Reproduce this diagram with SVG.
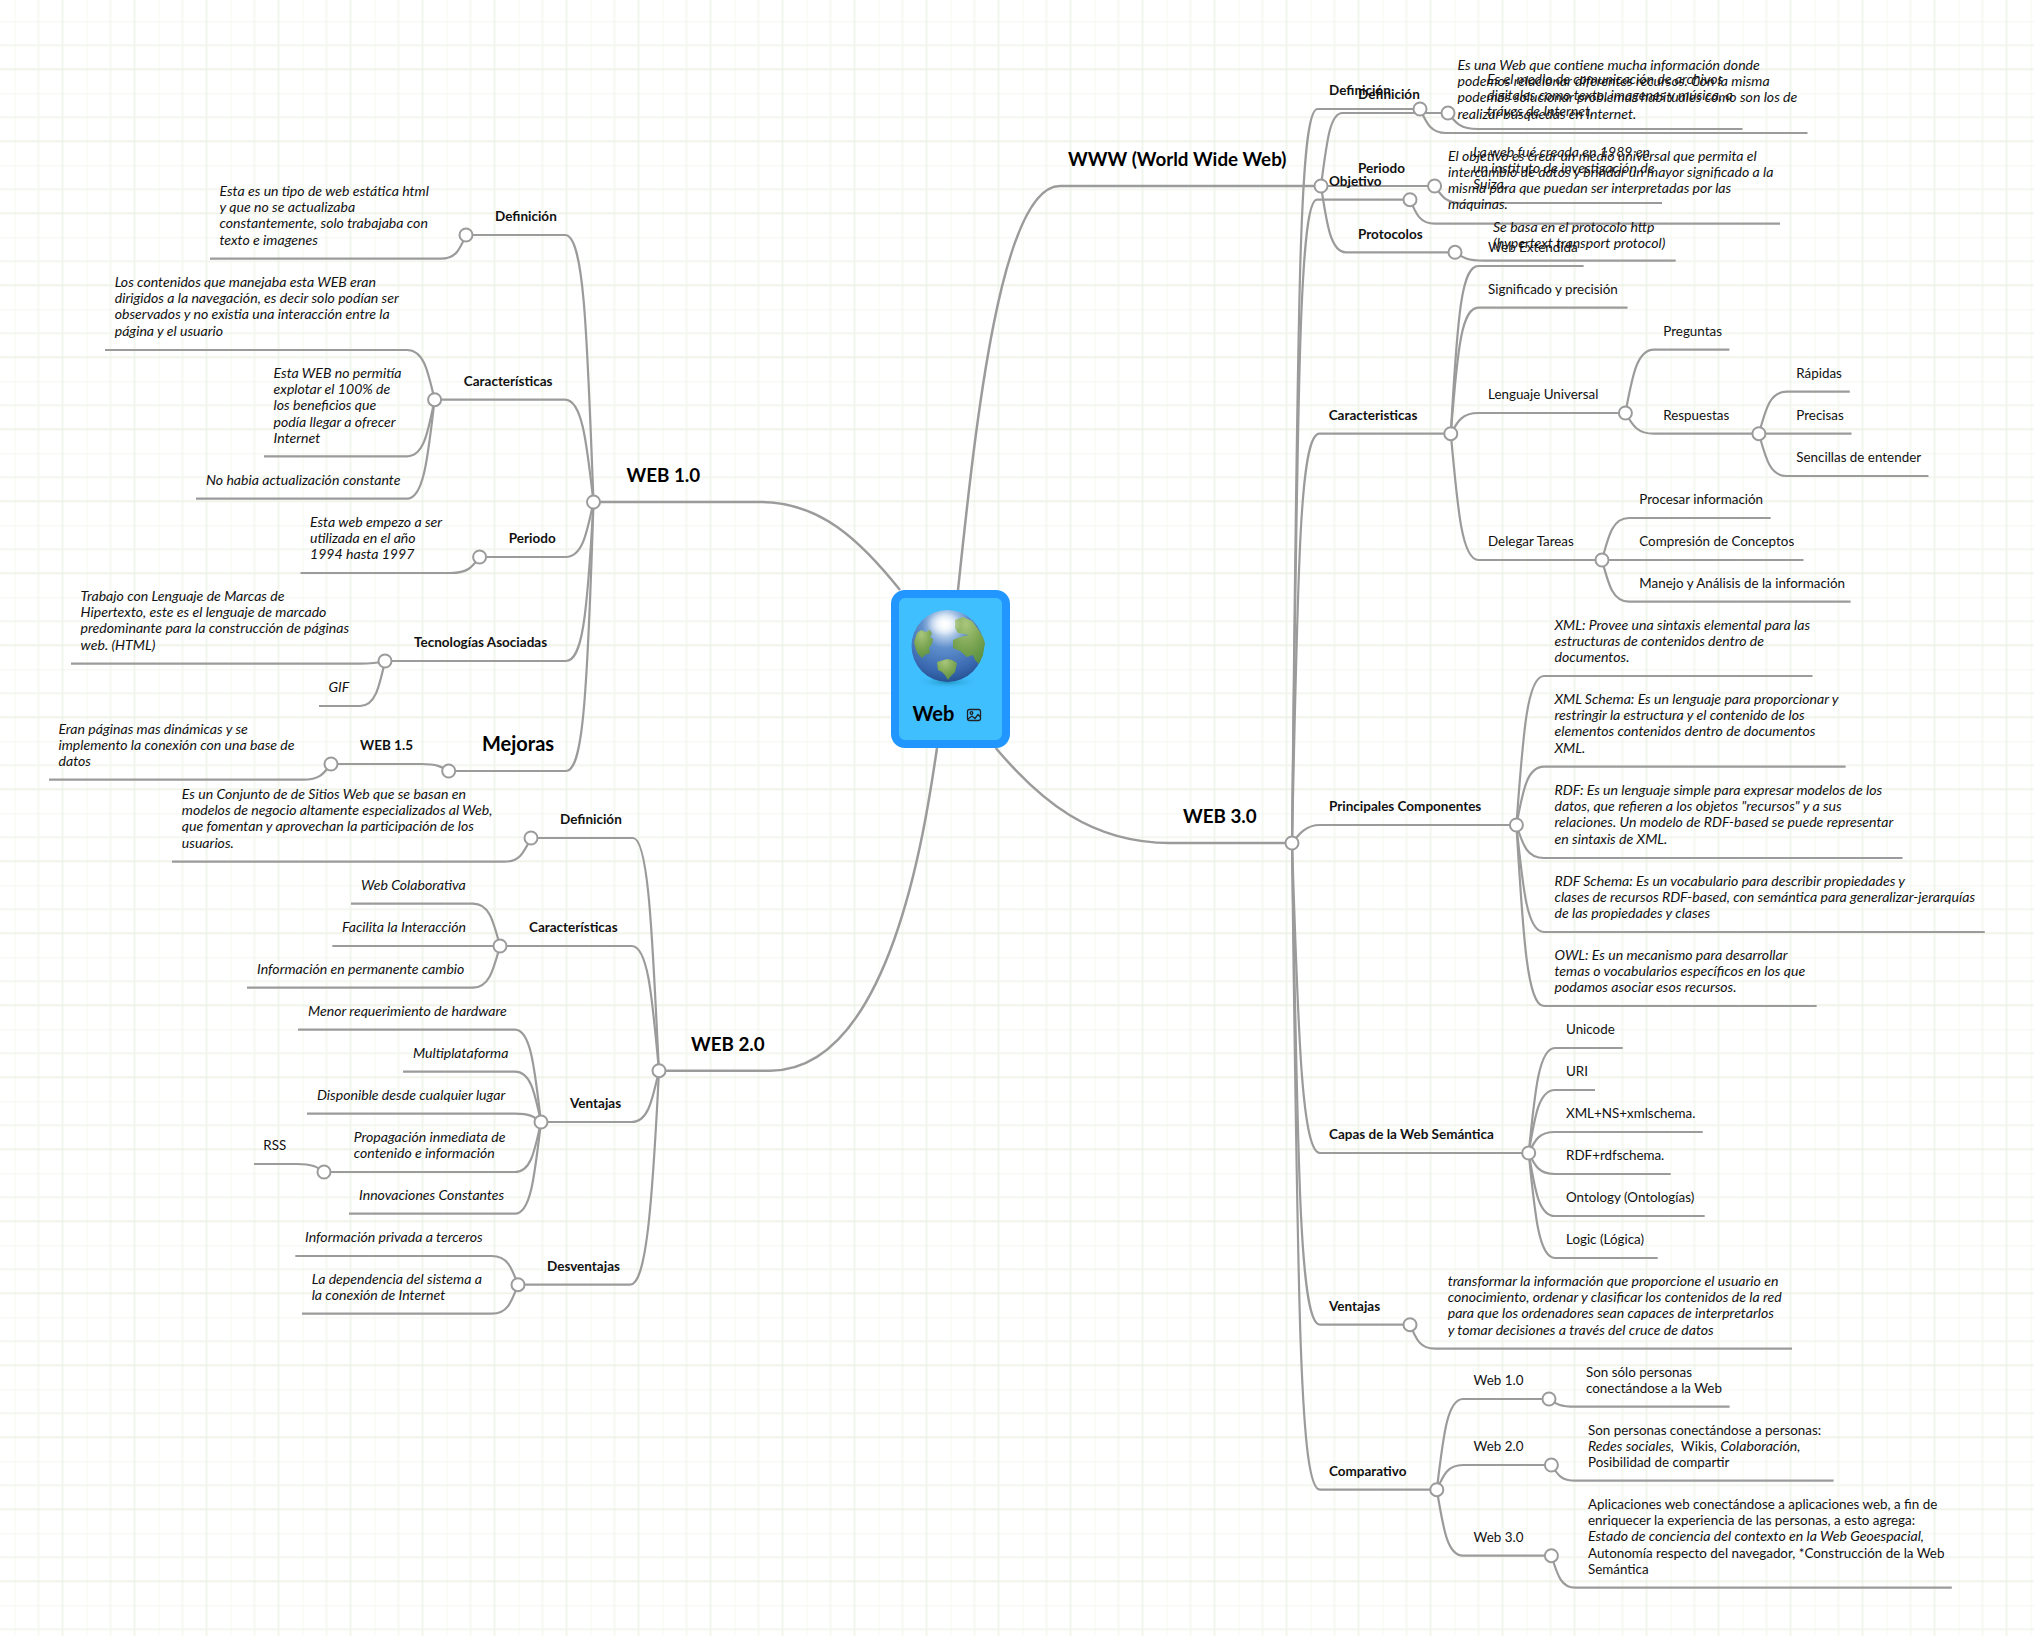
<svg xmlns="http://www.w3.org/2000/svg" width="2034" height="1636" viewBox="0 0 2034 1636">
<style>
text{font-family:Lato,"Open Sans",sans-serif;font-size:13.400px;fill:#111}
.i{font-style:italic;font-size:14.100px}
.b{font-weight:700;font-size:13.500px}
.t{font-weight:700;font-size:18.800px;fill:#000}
.u{font-size:20px}
.c path{fill:none;stroke:#9b9b9b;stroke-width:2.200}
.c .m{stroke-width:2.500}
.d{fill:#fff;stroke:#9b9b9b;stroke-width:2}
</style>
<defs>
<pattern id="grid" patternUnits="userSpaceOnUse" x="14.500" y="21.300" width="72" height="72">
<path d="M0 0V72M24 0V72M0 0H72M0 24H72" fill="none" stroke="#f1f5eb" stroke-width="1.300"/>
<path d="M48 0V72M0 48H72" fill="none" stroke="#ebf1e3" stroke-width="1.300"/>
</pattern>
<radialGradient id="sea" cx="0.47" cy="0.2" r="0.82">
<stop offset="0" stop-color="#ffffff"/><stop offset="0.14" stop-color="#cfe0f2"/><stop offset="0.4" stop-color="#5f8fcc"/><stop offset="0.8" stop-color="#3a68b0"/><stop offset="1" stop-color="#24508f"/>
</radialGradient>
<radialGradient id="land" cx="0.4" cy="0.15" r="1">
<stop offset="0" stop-color="#a9c67c"/><stop offset="0.5" stop-color="#7ba552"/><stop offset="1" stop-color="#4f8a3e"/>
</radialGradient>
<radialGradient id="shine" cx="0.5" cy="0.5" r="0.5">
<stop offset="0" stop-color="#fff" stop-opacity="0.95"/><stop offset="1" stop-color="#fff" stop-opacity="0"/>
</radialGradient>
<radialGradient id="shade" cx="0.5" cy="0.5" r="0.5">
<stop offset="0" stop-color="#1f8fb8" stop-opacity="0.9"/><stop offset="1" stop-color="#40c0ff" stop-opacity="0"/>
</radialGradient>
</defs>
<rect width="2034" height="1636" fill="#fff"/>
<rect width="2034" height="1636" fill="url(#grid)"/>

<g id="connectors" class="c">
<path class="m" d="M900 590C860 540 820 502 760 502L593.500 502"/>
<path class="m" d="M937 748C925 830 890 1070.700 770 1070.700L659 1070.700"/>
<path class="m" d="M958 590C975 430 1000 186 1060 186L1321 186"/>
<path class="m" d="M995.700 748C1040 800 1090 843 1170 843L1292 843"/>

<path d="M593.500 502C587 330 584 235 565 235L466 235"/>
<path d="M593.500 502C586.500 441 582 399.700 565 399.700L434.600 399.700"/>
<path d="M593.500 502C586.500 535 582 557 565.800 557L479.600 557"/>
<path d="M593.500 502C587 620 582 661 565.800 661L385 661"/>
<path d="M593.500 502C587 710 582 771 565.800 771L448.700 771"/>
<path d="M466 235C460 249 456 258.700 441 258.700L210 258.700"/>
<path d="M434.600 399.700C427.700 370 423.500 350 407 350L105 350"/>
<path d="M434.600 399.700C427.700 433.700 423.500 456.300 407 456.300L264 456.300"/>
<path d="M434.600 399.700C427.700 459 423.500 498.700 407 498.700L196 498.700"/>
<path d="M479.600 557C472.500 566.600 468 573 451 573L300.500 573"/>
<path d="M385 661C379 662.600 375 663.700 360 663.700L71 663.700"/>
<path d="M385 661C379 688 375 706 360 706L319 706"/>
<path d="M448.700 771C442 767 437.800 764 421.500 764L331 764"/>
<path d="M331 764C324 773.400 319.800 779.700 303 779.700L49 779.700"/>

<path d="M659 1070.700C653 960 650 838 633 838L531 838"/>
<path d="M659 1070.700C652 996 648 946 631.700 946L500 946"/>
<path d="M659 1070.700C652 1101 648 1122 631.700 1122L541 1122"/>
<path d="M659 1070.700C652 1210 646 1284.700 630 1284.700L518 1284.700"/>
<path d="M531 838C524 852 520 861.700 504.500 861.700L172 861.700"/>
<path d="M500 946C493 920 489 903.700 473 903.700L351 903.700"/>
<path d="M500 946L332.300 946"/>
<path d="M500 946C493 971 489 987.700 473 987.700L247 987.700"/>
<path d="M541 1122C534.500 1067 530.600 1029.700 515 1029.700L298 1029.700"/>
<path d="M541 1122C534.500 1092 530.600 1071.700 515 1071.700L403 1071.700"/>
<path d="M541 1122C534.500 1117 530.600 1113.700 515 1113.700L307 1113.700"/>
<path d="M541 1122C534.500 1152 530.600 1172 515 1172L324 1172"/>
<path d="M541 1122C534.500 1177 530.600 1213.700 515 1213.700L349 1213.700"/>
<path d="M324 1172C317 1167 313 1164 296.700 1164L254 1164"/>
<path d="M518 1284.700C511.500 1267.500 507.500 1256 491.700 1256L295.300 1256"/>
<path d="M518 1284.700C511.500 1302 507.500 1313.700 491.700 1313.700L302 1313.700"/>

<path d="M1321 186C1327 140 1330 113 1342.500 113L1448 113"/>
<path d="M1321 186L1434.600 186"/>
<path d="M1321 186C1327 226 1331 252.300 1346 252.300L1455 252.300"/>
<path d="M1448 113C1455.500 122.600 1460 129 1478 129L1742.500 129"/>
<path d="M1434.600 186C1441.400 196 1445.600 203 1462 203L1662 203"/>
<path d="M1455 252.300C1462 257 1466.400 260.700 1483.600 260.700L1675.700 260.700"/>

<path d="M1292 843C1298 300 1299 109 1317.500 109L1420 109"/>
<path d="M1292 843C1298 390 1299 199.700 1317 199.700L1410 199.700"/>
<path d="M1292 843C1298 560 1300 433.700 1319.500 433.700L1450.800 433.700"/>
<path d="M1292 843C1299 834 1306 825 1320 825L1516.400 825"/>
<path d="M1292 843C1298 1020 1301 1153 1320 1153L1528.700 1153"/>
<path d="M1292 843C1298 1180 1300 1324.700 1320 1324.700L1410 1324.700"/>
<path d="M1292 843C1298 1320 1300 1489.700 1320 1489.700L1436.800 1489.700"/>
<path d="M1420 109C1426.500 123 1430.400 133 1446 133L1807.500 133"/>
<path d="M1410 199.700C1416 214 1420 223.700 1435 223.700L1780 223.700"/>
<path d="M1450.800 433.700C1457.700 310 1462 266 1478.500 266L1583.600 266"/>
<path d="M1450.800 433.700C1457.700 345 1462 307.700 1478.500 307.700L1627.500 307.700"/>
<path d="M1450.800 433.700C1457.700 421 1462 413 1478.500 413L1625.400 413"/>
<path d="M1450.800 433.700C1457.700 510 1462 560 1478.500 560L1602 560"/>
<path d="M1625.400 413C1632.500 375 1637 349.700 1654 349.700L1729.400 349.700"/>
<path d="M1625.400 413C1632.500 425 1637 433.700 1654 433.700L1758.900 433.700"/>
<path d="M1758.900 433.700C1766 408 1770 391.700 1786.600 391.700L1849.800 391.700"/>
<path d="M1758.900 433.700L1851.500 433.700"/>
<path d="M1758.900 433.700C1766 459 1770 476 1786.600 476L1928.500 476"/>
<path d="M1602 560C1608.700 535 1612.700 518 1628.800 518L1770.600 518"/>
<path d="M1602 560L1803.500 560"/>
<path d="M1602 560C1608.700 585 1612.700 601.700 1628.800 601.700L1850.600 601.700"/>
<path d="M1516.400 825C1523 735 1527 676 1544 676L1812.500 676"/>
<path d="M1516.400 825C1523 790 1527 766.700 1544 766.700L1845.600 766.700"/>
<path d="M1516.400 825C1523 845 1527 858 1544 858L1902.500 858"/>
<path d="M1516.400 825C1523 889 1527 932 1544 932L1984.700 932"/>
<path d="M1516.400 825C1523 934 1527 1006 1544 1006L1816.600 1006"/>
<path d="M1528.700 1153C1535 1090 1539 1048 1555 1048L1622.700 1048"/>
<path d="M1528.700 1153C1535 1115 1539 1090 1555 1090L1595 1090"/>
<path d="M1528.700 1153C1535 1140 1539 1132 1555 1132L1702.700 1132"/>
<path d="M1528.700 1153C1535 1166 1539 1174 1555 1174L1670.700 1174"/>
<path d="M1528.700 1153C1535 1191 1539 1216 1555 1216L1704.700 1216"/>
<path d="M1528.700 1153C1535 1216 1539 1258 1555 1258L1657.700 1258"/>
<path d="M1410 1324.700C1416 1339 1420 1348.700 1435 1348.700L1792 1348.700"/>
<path d="M1436.800 1489.700C1443.400 1435 1447.300 1399 1463 1399L1549 1399"/>
<path d="M1436.800 1489.700C1443.400 1475 1447.300 1465 1463 1465L1551.400 1465"/>
<path d="M1436.800 1489.700C1443.400 1529 1447.300 1555.700 1463 1555.700L1551.400 1555.700"/>
<path d="M1549 1399C1555.600 1403.600 1559.600 1406.700 1575.400 1406.700L1729.600 1406.700"/>
<path d="M1551.400 1465C1557.400 1474.400 1561 1480.700 1575.400 1480.700L1833.600 1480.700"/>
<path d="M1551.400 1555.700C1557.400 1575 1561 1587.700 1575.400 1587.700L1951.800 1587.700"/>
</g>

<g id="center">
<rect x="895" y="594" width="111" height="150" rx="10" fill="#40bfff" stroke="#2196ff" stroke-width="8"/>
<ellipse cx="947.500" cy="682" rx="34" ry="7" fill="url(#shade)"/>
<circle cx="947.500" cy="646" r="36" fill="url(#sea)"/>
<path fill="url(#land)" d="M917 633L921 630L926 632L930 630L932 634L930 637L933 639L932 644L929 648L930 653L925 655L922 658L918 654L916 650L914 642Z"/>
<path fill="url(#land)" d="M937 662L947 659L952 660L957 663L955 672L950 677L948 680L945 675L942 672L938 670Z"/>
<path fill="url(#land)" d="M955 620L963 617L972 621L978 629L983 637L985 643L983 655L979 664L975 660L973 655L967 657L960 651L953 648L953 640L960 637L969 635L958 633L955 628Z"/>
<ellipse cx="944" cy="624" rx="17" ry="12" fill="url(#shine)"/>
<text class="t u" x="912.500" y="721">Web</text>
<g fill="none" stroke="#222" stroke-width="1.300"><rect x="967.500" y="709.500" width="13" height="11" rx="2"/><circle cx="971.500" cy="713" r="1.300"/><path d="M968 719L972 716L975 718.500L978 714.500L980.500 717"/></g>
</g>

<g id="www"><text class="t" x="1068" y="166">WWW (World Wide Web)</text><circle class="d" cx="1321" cy="186" r="6.500"/></g>
<g id="www-definicion"><text class="b" x="1358" y="99">Definición</text><circle class="d" cx="1448" cy="113" r="6.500"/></g>
<g id="www-definicion-t"><text class="i"><tspan x="1487" y="83.500">Es el medio de comunicación de archivos</tspan><tspan x="1487" y="99.500">digitales como texto, imagenes y música, a</tspan><tspan x="1487" y="115.500">tráves de Internet.</tspan></text></g>
<g id="www-periodo"><text class="b" x="1358" y="172.500">Periodo</text><circle class="d" cx="1434.600" cy="186" r="6.500"/></g>
<g id="www-periodo-t"><text class="i"><tspan x="1473" y="157">La web fué creada en 1989 en</tspan><tspan x="1473" y="173">un instituto de investigación de</tspan><tspan x="1473" y="189">Suiza.</tspan></text></g>
<g id="www-protocolos"><text class="b" x="1358" y="238.500">Protocolos</text><circle class="d" cx="1455" cy="252.300" r="6.500"/></g>
<g id="www-protocolos-t"><text class="i"><tspan x="1493" y="232">Se basa en el protocolo http</tspan><tspan x="1493" y="248">(hypertext transport protocol)</tspan></text></g>

<g id="web3"><text class="t" x="1183" y="823">WEB 3.0</text><circle class="d" cx="1292" cy="843" r="6.500"/></g>
<g id="w3-definicion"><text class="b" x="1329" y="95">Definición</text><circle class="d" cx="1420" cy="109" r="6.500"/></g>
<g id="w3-definicion-t"><text class="i"><tspan x="1457.500" y="70">Es una Web que contiene mucha información donde</tspan><tspan x="1457.500" y="86">podemos relacionar diferentes recursos. Con la misma</tspan><tspan x="1457.500" y="102">podemos solucionar problemas habituales como son los de</tspan><tspan x="1457.500" y="118.500">realizar búsquedas en Internet.</tspan></text></g>
<g id="w3-objetivo"><text class="b" x="1329" y="186">Objetivo</text><circle class="d" cx="1410" cy="199.700" r="6.500"/></g>
<g id="w3-objetivo-t"><text class="i"><tspan x="1448" y="160.700">El objetivo es crear un medio universal que permita el</tspan><tspan x="1448" y="177">intercambio de datos y brindar un mayor significado a la</tspan><tspan x="1448" y="193">misma para que puedan ser interpretadas por las</tspan><tspan x="1448" y="209.300">máquinas.</tspan></text></g>
<g id="w3-carac"><text class="b" x="1328.700" y="420">Caracteristicas</text><circle class="d" cx="1450.800" cy="433.700" r="6.500"/></g>
<g id="w3-c1"><text x="1488" y="252">Web Extendida</text></g>
<g id="w3-c2"><text x="1488" y="294">Significado y precisión</text></g>
<g id="w3-c3"><text x="1488" y="399">Lenguaje Universal</text><circle class="d" cx="1625.400" cy="413" r="6.500"/></g>
<g id="w3-c3a"><text x="1663.300" y="336">Preguntas</text></g>
<g id="w3-c3b"><text x="1663.300" y="420">Respuestas</text><circle class="d" cx="1758.900" cy="433.700" r="6.500"/></g>
<g id="w3-c3b1"><text x="1796.300" y="378">Rápidas</text></g>
<g id="w3-c3b2"><text x="1796.300" y="420">Precisas</text></g>
<g id="w3-c3b3"><text x="1796.300" y="462">Sencillas de entender</text></g>
<g id="w3-c4"><text x="1488" y="546">Delegar Tareas</text><circle class="d" cx="1602" cy="560" r="6.500"/></g>
<g id="w3-c4a"><text x="1639.300" y="504">Procesar información</text></g>
<g id="w3-c4b"><text x="1639.300" y="546">Compresión de Conceptos</text></g>
<g id="w3-c4c"><text x="1639.300" y="588">Manejo y Análisis de la información</text></g>
<g id="w3-comp"><text class="b" x="1329" y="811">Principales Componentes</text><circle class="d" cx="1516.400" cy="825" r="6.500"/></g>
<g id="w3-xml"><text class="i"><tspan x="1554.500" y="630">XML: Provee una sintaxis elemental para las</tspan><tspan x="1554.500" y="646">estructuras de contenidos dentro de</tspan><tspan x="1554.500" y="662">documentos.</tspan></text></g>
<g id="w3-xmls"><text class="i"><tspan x="1554.500" y="704">XML Schema: Es un lenguaje para proporcionar y</tspan><tspan x="1554.500" y="720">restringir la estructura y el contenido de los</tspan><tspan x="1554.500" y="736">elementos contenidos dentro de documentos</tspan><tspan x="1554.500" y="752.700">XML.</tspan></text></g>
<g id="w3-rdf"><text class="i"><tspan x="1554.500" y="795">RDF: Es un lenguaje simple para expresar modelos de los</tspan><tspan x="1554.500" y="811">datos, que refieren a los objetos "recursos" y a sus</tspan><tspan x="1554.500" y="827">relaciones. Un modelo de RDF-based se puede representar</tspan><tspan x="1554.500" y="844">en sintaxis de XML.</tspan></text></g>
<g id="w3-rdfs"><text class="i"><tspan x="1554.500" y="886">RDF Schema: Es un vocabulario para describir propiedades y</tspan><tspan x="1554.500" y="902">clases de recursos RDF-based, con semántica para generalizar-jerarquías</tspan><tspan x="1554.500" y="918">de las propiedades y clases</tspan></text></g>
<g id="w3-owl"><text class="i"><tspan x="1554.500" y="960">OWL: Es un mecanismo para desarrollar</tspan><tspan x="1554.500" y="976">temas o vocabularios específicos en los que</tspan><tspan x="1554.500" y="992">podamos asociar esos recursos.</tspan></text></g>
<g id="w3-capas"><text class="b" x="1329" y="1139">Capas de la Web Semántica</text><circle class="d" cx="1528.700" cy="1153" r="6.500"/></g>
<g id="w3-l1"><text x="1566" y="1034">Unicode</text></g>
<g id="w3-l2"><text x="1566" y="1076">URI</text></g>
<g id="w3-l3"><text x="1566" y="1118">XML+NS+xmlschema.</text></g>
<g id="w3-l4"><text x="1566" y="1160">RDF+rdfschema.</text></g>
<g id="w3-l5"><text x="1566" y="1202">Ontology (Ontologías)</text></g>
<g id="w3-l6"><text x="1566" y="1244">Logic (Lógica)</text></g>
<g id="w3-ventajas"><text class="b" x="1329" y="1311">Ventajas</text><circle class="d" cx="1410" cy="1324.700" r="6.500"/></g>
<g id="w3-ventajas-t"><text class="i"><tspan x="1447.700" y="1286">transformar la información que proporcione el usuario en</tspan><tspan x="1447.700" y="1302">conocimiento, ordenar y clasificar los contenidos de la red</tspan><tspan x="1447.700" y="1318">para que los ordenadores sean capaces de interpretarlos</tspan><tspan x="1447.700" y="1334.700">y tomar decisiones a través del cruce de datos</tspan></text></g>
<g id="w3-comparativo"><text class="b" x="1329" y="1476">Comparativo</text><circle class="d" cx="1436.800" cy="1489.700" r="6.500"/></g>
<g id="w3-w1"><text x="1473.600" y="1385">Web 1.0</text><circle class="d" cx="1549" cy="1399" r="6.500"/></g>
<g id="w3-w1t"><text><tspan x="1586" y="1376.700">Son sólo personas</tspan><tspan x="1586" y="1393">conectándose a la Web</tspan></text></g>
<g id="w3-w2"><text x="1473.600" y="1451">Web 2.0</text><circle class="d" cx="1551.400" cy="1465" r="6.500"/></g>
<g id="w3-w2t"><text><tspan x="1588" y="1434.700">Son personas conectándose a personas:</tspan><tspan x="1588" y="1451" class="i">Redes sociales,</tspan><tspan xml:space="preserve">  Wikis, </tspan><tspan class="i">Colaboración,</tspan><tspan x="1588" y="1467">Posibilidad de compartir</tspan></text></g>
<g id="w3-w3"><text x="1473.600" y="1542">Web 3.0</text><circle class="d" cx="1551.400" cy="1555.700" r="6.500"/></g>
<g id="w3-w3t"><text><tspan x="1588" y="1508.700">Aplicaciones web conectándose a aplicaciones web, a fin de</tspan><tspan x="1588" y="1525">enriquecer la experiencia de las personas, a esto agrega:</tspan><tspan x="1588" y="1541" class="i">Estado de conciencia del contexto en la Web Geoespacial,</tspan><tspan x="1588" y="1558">Autonomía respecto del navegador, *Construcción de la Web</tspan><tspan x="1588" y="1574">Semántica</tspan></text></g>

<g id="web1"><text class="t" x="626.500" y="482">WEB 1.0</text><circle class="d" cx="593.500" cy="502" r="6.500"/></g>
<g id="w1-def"><text class="b" x="495" y="221">Definición</text><circle class="d" cx="466" cy="235" r="6.500"/></g>
<g id="w1-def-t"><text class="i"><tspan x="219.500" y="195.700">Esta es un tipo de web estática html</tspan><tspan x="219.500" y="212">y que no se actualizaba</tspan><tspan x="219.500" y="228">constantemente, solo trabajaba con</tspan><tspan x="219.500" y="244.500">texto e imagenes</tspan></text></g>
<g id="w1-car"><text class="b" x="463.800" y="386">Características</text><circle class="d" cx="434.600" cy="399.700" r="6.500"/></g>
<g id="w1-car-1"><text class="i"><tspan x="114.700" y="286.700">Los contenidos que manejaba esta WEB eran</tspan><tspan x="114.700" y="303">dirigidos a la navegación, es decir solo podían ser</tspan><tspan x="114.700" y="319">observados y no existia una interacción entre la</tspan><tspan x="114.700" y="335.500">página y el usuario</tspan></text></g>
<g id="w1-car-2"><text class="i"><tspan x="273.600" y="377.700">Esta WEB no permitía</tspan><tspan x="273.600" y="393.700">explotar el 100% de</tspan><tspan x="273.600" y="409.700">los beneficios que</tspan><tspan x="273.600" y="426.700">podía llegar a ofrecer</tspan><tspan x="273.600" y="442.700">Internet</tspan></text></g>
<g id="w1-car-3"><text class="i" x="206" y="485">No habia actualización constante</text></g>
<g id="w1-per"><text class="b" x="508.800" y="543">Periodo</text><circle class="d" cx="479.600" cy="557" r="6.500"/></g>
<g id="w1-per-t"><text class="i"><tspan x="310" y="526.700">Esta web empezo a ser</tspan><tspan x="310" y="542.700">utilizada en el año</tspan><tspan x="310" y="558.700">1994 hasta 1997</tspan></text></g>
<g id="w1-tec"><text class="b" x="414" y="647">Tecnologías Asociadas</text><circle class="d" cx="385" cy="661" r="6.500"/></g>
<g id="w1-tec-1"><text class="i"><tspan x="80.600" y="600.700">Trabajo con Lenguaje de Marcas de</tspan><tspan x="80.600" y="617">Hipertexto, este es el lenguaje de marcado</tspan><tspan x="80.600" y="633">predominante para la construcción de páginas</tspan><tspan x="80.600" y="649.500">web. (HTML)</tspan></text></g>
<g id="w1-tec-2"><text class="i" x="328.500" y="692">GIF</text></g>
<g id="w1-mej"><text class="t u" x="482" y="751">Mejoras</text><circle class="d" cx="448.700" cy="771" r="6.500"/></g>
<g id="w1-15"><text class="b" x="360" y="750">WEB 1.5</text><circle class="d" cx="331" cy="764" r="6.500"/></g>
<g id="w1-15-t"><text class="i"><tspan x="58.500" y="734">Eran páginas mas dinámicas y se</tspan><tspan x="58.500" y="750">implemento la conexión con una base de</tspan><tspan x="58.500" y="766">datos</tspan></text></g>

<g id="web2"><text class="t" x="691" y="1051">WEB 2.0</text><circle class="d" cx="659" cy="1070.700" r="6.500"/></g>
<g id="w2-def"><text class="b" x="560" y="824">Definición</text><circle class="d" cx="531" cy="838" r="6.500"/></g>
<g id="w2-def-t"><text class="i"><tspan x="181.800" y="798.700">Es un Conjunto de de Sitios Web que se basan en</tspan><tspan x="181.800" y="815">modelos de negocio altamente especializados al Web,</tspan><tspan x="181.800" y="831">que fomentan y aprovechan la participación de los</tspan><tspan x="181.800" y="847.500">usuarios.</tspan></text></g>
<g id="w2-car"><text class="b" x="529" y="932">Características</text><circle class="d" cx="500" cy="946" r="6.500"/></g>
<g id="w2-car-1"><text class="i" x="361" y="890">Web Colaborativa</text></g>
<g id="w2-car-2"><text class="i" x="342" y="932">Facilita la Interacción</text></g>
<g id="w2-car-3"><text class="i" x="257" y="974">Información en permanente cambio</text></g>
<g id="w2-ven"><text class="b" x="570" y="1108">Ventajas</text><circle class="d" cx="541" cy="1122" r="6.500"/></g>
<g id="w2-ven-1"><text class="i" x="308" y="1016">Menor requerimiento de hardware</text></g>
<g id="w2-ven-2"><text class="i" x="413" y="1058">Multiplataforma</text></g>
<g id="w2-ven-3"><text class="i" x="317" y="1100">Disponible desde cualquier lugar</text></g>
<g id="w2-ven-4"><text class="i"><tspan x="353.700" y="1142">Propagación inmediata de</tspan><tspan x="353.700" y="1158">contenido e información</tspan></text><circle class="d" cx="324" cy="1172" r="6.500"/></g>
<g id="w2-rss"><text x="263.300" y="1150">RSS</text></g>
<g id="w2-ven-5"><text class="i" x="359" y="1200">Innovaciones Constantes</text></g>
<g id="w2-des"><text class="b" x="547" y="1271">Desventajas</text><circle class="d" cx="518" cy="1284.700" r="6.500"/></g>
<g id="w2-des-1"><text class="i" x="305" y="1242">Información privada a terceros</text></g>
<g id="w2-des-2"><text class="i"><tspan x="311.700" y="1284">La dependencia del sistema a</tspan><tspan x="311.700" y="1300">la conexión de Internet</tspan></text></g>
</svg>
